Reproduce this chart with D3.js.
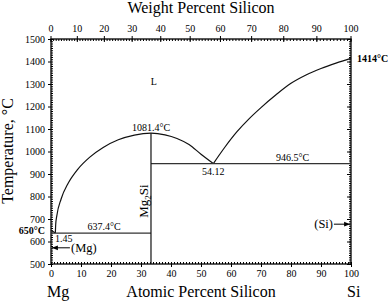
<!DOCTYPE html>
<html lang="en">
<head>
    <meta charset="utf-8">
    <title>Mg-Si phase diagram</title>
    <script src="https://d3js.org/d3.v7.min.js"></script>
    <style>
        body { margin: 0; background: #fff; }
        text { font-family: "Liberation Serif", "Times New Roman", serif; fill: #000; }
    </style>
</head>
<body>
<div id="chart"></div>
<script>
    // Axis ticks
    const atomicTicks = d3.range(0, 101, 10);
    const weightTicks = d3.range(0, 101, 10);
    const tempTicks = d3.range(500, 1501, 100);

    // Liquidus as [at% Si, °C]
    const liquidusMg = [[0, 650], [1.45, 637.4]];
    const liquidusDome = [[1.45, 637.4], [1.57, 676], [1.93, 714], [3.37, 789], [5.72, 859], [8.91, 921],
        [12.84, 974], [17.39, 1018], [22.43, 1052], [27.8, 1073], [33.33, 1081.4],
        [38, 1074], [42, 1058], [46, 1031], [50, 988], [54.12, 946.5]];
    const liquidusSi = [[54.12, 946.5], [58, 1020], [62, 1088], [66, 1145], [70, 1195], [75, 1252],
        [80, 1303], [85, 1340], [90, 1369], [95, 1393], [100, 1414]];

    // Invariant lines
    const eutecticMg = {from: 0, to: 33.33, temp: 637.4};
    const eutecticSi = {from: 33.33, to: 100, temp: 946.5};
    const compound = {at: 33.33, bottom: 500, top: 1081.4};

    const width = 388, height = 302;
    const svg = d3.select("#chart").append("svg")
        .attr("width", width)
        .attr("height", height);

    const x = d3.scaleLinear().domain([0, 100]).range([51, 351]);
    const y = d3.scaleLinear().domain([500, 1500]).range([264, 39]);

    // weight percent Si -> atomic percent Si
    const wtToAt = w => {
        const si = w / 28.086, mg = (100 - w) / 24.305;
        return 100 * si / (si + mg);
    };

    const serif = g => g.selectAll("text")
        .style("font-size", "10px")
        .style("font-family", "'Liberation Serif', serif");

    // Left axis
    svg.append("g").attr("transform", `translate(${x(0)},0)`)
        .call(d3.axisLeft(y).tickValues(d3.range(500, 1501, 10)).tickSize(-2).tickFormat(""))
        .call(g => g.select(".domain").remove());
    svg.append("g").attr("transform", `translate(${x(0)},0)`)
        .call(d3.axisLeft(y).tickValues(tempTicks).tickSize(3).tickPadding(3).tickFormat(d3.format("d")))
        .call(g => g.select(".domain").remove())
        .call(serif);

    // Right axis
    svg.append("g").attr("transform", `translate(${x(100)},0)`)
        .call(d3.axisRight(y).tickValues(d3.range(500, 1501, 10)).tickSize(-2).tickFormat(""))
        .call(g => g.select(".domain").remove());
    svg.append("g").attr("transform", `translate(${x(100)},0)`)
        .call(d3.axisRight(y).tickValues(tempTicks).tickSize(-4).tickFormat(""))
        .call(g => g.select(".domain").remove());

    // Bottom axis
    svg.append("g").attr("transform", `translate(0,${y(500)})`)
        .call(d3.axisBottom(x).tickValues(d3.range(0, 101, 1)).tickSize(-2).tickFormat(""))
        .call(g => g.select(".domain").remove());
    svg.append("g").attr("transform", `translate(0,${y(500)})`)
        .call(d3.axisBottom(x).tickValues(atomicTicks).tickSize(3).tickPadding(3).tickFormat(d3.format("d")))
        .call(g => g.select(".domain").remove())
        .call(serif);

    // Top axis (weight percent, non linear)
    const topAxis = svg.append("g").attr("transform", `translate(0,${y(1500)})`);
    topAxis.selectAll("line.minor")
        .data(d3.range(0, 101, 1))
        .join("line")
        .attr("class", "minor")
        .attr("x1", d => x(wtToAt(d))).attr("x2", d => x(wtToAt(d)))
        .attr("y1", 0).attr("y2", 2)
        .attr("stroke", "#000");
    topAxis.selectAll("line.major")
        .data(weightTicks)
        .join("line")
        .attr("class", "major")
        .attr("x1", d => x(wtToAt(d))).attr("x2", d => x(wtToAt(d)))
        .attr("y1", -3).attr("y2", 3)
        .attr("stroke", "#000");
    topAxis.selectAll("text")
        .data(weightTicks)
        .join("text")
        .attr("x", d => x(wtToAt(d)))
        .attr("y", -7)
        .attr("text-anchor", "middle")
        .style("font-size", "10px")
        .text(d => d);

    // Frame
    svg.append("rect")
        .attr("x", x(0)).attr("y", y(1500))
        .attr("width", x(100) - x(0)).attr("height", y(500) - y(1500))
        .attr("fill", "none").attr("stroke", "#000").attr("stroke-width", 1.3);

    // Diagram lines
    const line = d3.line().x(d => x(d[0])).y(d => y(d[1]));
    const smooth = d3.line().x(d => x(d[0])).y(d => y(d[1])).curve(d3.curveMonotoneX);
    const draw = (data, gen) => svg.append("path").datum(data)
        .attr("d", gen).attr("fill", "none").attr("stroke", "#111").attr("stroke-width", 1.2);
    draw(liquidusMg, line);
    draw(liquidusDome, smooth);
    draw(liquidusSi, smooth);

    [eutecticMg, eutecticSi].forEach(e => {
        svg.append("line")
            .attr("x1", x(e.from)).attr("x2", x(e.to))
            .attr("y1", y(e.temp)).attr("y2", y(e.temp))
            .attr("stroke", "#333").attr("stroke-width", 1.2);
    });
    svg.append("line")
        .attr("x1", x(compound.at)).attr("x2", x(compound.at))
        .attr("y1", y(compound.bottom)).attr("y2", y(compound.top))
        .attr("stroke", "#111").attr("stroke-width", 1.2);

    // Arrows to the terminal solid solutions
    svg.append("defs").append("marker")
        .attr("id", "arrow")
        .attr("viewBox", "0 0 10 10")
        .attr("refX", 10).attr("refY", 5)
        .attr("markerWidth", 6).attr("markerHeight", 6)
        .attr("orient", "auto")
        .append("path").attr("d", "M0,1L10,5L0,9Z").attr("fill", "#000");
    const arrow = (a0, a1, t) => svg.append("line")
        .attr("x1", x(a0)).attr("x2", x(a1))
        .attr("y1", y(t)).attr("y2", y(t))
        .attr("stroke", "#000").attr("stroke-width", 1)
        .attr("marker-end", "url(#arrow)");
    arrow(6.3, 0.3, 572);
    arrow(94.3, 99.7, 677);

    // Labels
    const label = (tx, ty, str, size, anchor, weight) => svg.append("text")
        .attr("x", tx).attr("y", ty)
        .attr("text-anchor", anchor || "start")
        .style("font-size", size + "px")
        .style("font-weight", weight || "normal")
        .text(str);

    label(201, 13, "Weight Percent Silicon", 16, "middle");
    label(201, 297, "Atomic Percent Silicon", 16, "middle");
    label(47, 297, "Mg", 16);
    label(347, 297, "Si", 16);
    svg.append("text")
        .attr("transform", "translate(13,151) rotate(-90)")
        .attr("text-anchor", "middle")
        .style("font-size", "16px")
        .text("Temperature, °C");

    label(45, y(650) + 3.5, "650°C", 10, "end", "bold");
    label(357, y(1414) + 3.5, "1414°C", 10, "start", "bold");
    label(x(34.3), 85, "L", 10, "middle");
    label(x(33.33), 130.5, "1081.4°C", 10, "middle");
    label(x(80.5), 161, "946.5°C", 10, "middle");
    label(x(54.12), 174.5, "54.12", 10, "middle");
    label(x(17.7), 230, "637.4°C", 10, "middle");
    label(55, 242, "1.45", 10);
    label(71, 252, "(Mg)", 12.5);
    label(333, 228, "(Si)", 12.5, "end");

    const mg2si = svg.append("text")
        .attr("transform", `translate(147.5,201) rotate(-90)`)
        .attr("text-anchor", "middle")
        .style("font-size", "13px");
    mg2si.append("tspan").text("Mg");
    mg2si.append("tspan").attr("dy", 3).style("font-size", "9px").text("2");
    mg2si.append("tspan").attr("dy", -3).text("Si");
</script>
</body>
</html>
